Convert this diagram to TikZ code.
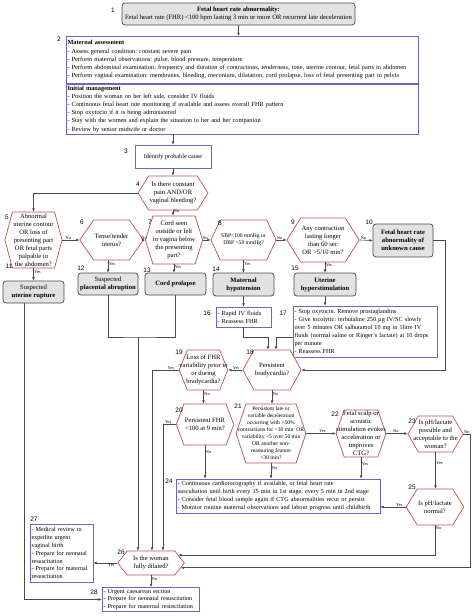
\documentclass[tikz,border=0pt]{standalone}
\usepackage{fontspec}
\setmainfont{Liberation Serif}
\newfontfamily\numfont{Liberation Sans}
\usetikzlibrary{arrows.meta,positioning,shapes.symbols}
\definecolor{hexred}{HTML}{C0504D}
\definecolor{actblue}{HTML}{6868C4}
\definecolor{outgray}{HTML}{E2E2E2}
\definecolor{lnk}{HTML}{4A4A4A}
\frenchspacing

\begin{document}
\begin{tikzpicture}[x=1pt,y=-1pt,>={Latex[length=3.2pt,width=2.8pt]},
 every node/.style={font=\fontsize{6.6}{8}\selectfont},
 hexq/.style={draw=hexred,line width=0.7pt,fill=white,shape=signal,signal to=east and west,align=center,inner sep=1pt},
 outcome/.style={draw=lnk,line width=0.7pt,fill=outgray,rounded corners=3pt,align=center,inner sep=1pt},
 actbox/.style={draw=actblue,line width=0.7pt,fill=white,align=left,inner sep=1.5pt,font=\fontsize{6.2}{7.9}\selectfont},
 num/.style={font=\numfont\fontsize{6.5}{7}\selectfont,inner sep=0pt},
 yn/.style={font=\fontsize{4.3}{5}\selectfont,inner sep=0.6pt},
 link/.style={draw=lnk,line width=0.6pt,->}]
\useasboundingbox (0,0) rectangle (474,616);

\node[outcome,minimum width=233,minimum height=22] (n1) at (238.5,14) {\textbf{Fetal heart rate abnormality:}\\Fetal heart rate (FHR) <100 bpm lasting 3 min or more OR recurrent late deceleration};
\node[actbox,anchor=north,text width=349,minimum height=47,font=\fontsize{6.3}{8.2}\selectfont] (n2a) at (242,36) {\textbf{Maternal assessment}\\- Assess general condition: constant severe pain\\- Perform maternal observations: pulse, blood pressure, temperature\\- Perform abdominal examination: frequency and duration of contractions, tenderness, tone, uterine contour, fetal parts in abdomen\\- Perform vaginal examination: membranes, bleeding, meconium, dilatation, cord prolapse, loss of fetal presenting part in pelvis};
\node[actbox,below=0pt of n2a,text width=349,minimum height=50,font=\fontsize{6.3}{8.2}\selectfont] (n2b) {\textbf{Initial management}\\- Position the woman on her left side, consider IV fluids\\- Continuous fetal heart rate monitoring if available and assess overall FHR pattern\\- Stop oxytocin if it is being administered\\- Stay with the women and explain the situation to her and her companion\\- Review by senior midwife or doctor};
\node[actbox,align=center,minimum width=76,minimum height=23] (n3) at (173,156.5) {Identify probable cause};

\node[hexq,minimum height=34,signal pointer angle=116] (n4) at (173,193) {Is there constant\\pain AND/OR\\vaginal bleeding?};
\node[hexq,minimum height=56,signal pointer angle=150] (n5) at (33.5,240) {Abnormal\\uterine contour\\OR loss of\\presenting part\\OR fetal parts\\palpable in\\the abdomen?};
\node[hexq,minimum height=40,signal pointer angle=110] (n6) at (111.5,240) {Tense/tender\\uterus?};
\node[hexq,minimum height=48,signal pointer angle=145,inner xsep=0pt] (n7) at (174,240) {Cord seen\\outside or felt\\in vagina below\\the presenting\\part?};
\node[hexq,minimum height=40,signal pointer angle=130,font=\fontsize{5.6}{7}\selectfont] (n8) at (243.5,240) {SBP<100 mmHg or\\DBP <50 mmHg?};
\node[hexq,minimum height=44,signal pointer angle=116] (n9) at (323,240) {Any contraction\\lasting longer\\than 60 sec\\OR >5/10 min?};
\node[outcome,minimum width=60,minimum height=33] (n10) at (403,240.5) {\textbf{Fetal heart rate}\\\textbf{abnormality of}\\\textbf{unknown cause}};

\node[outcome,minimum width=61,minimum height=22] (n11) at (33.5,292) {Suspected\\\textbf{uterine rupture}};
\node[outcome,minimum width=60,minimum height=22] (n12) at (108,284) {Suspected\\\textbf{placental abruption}};
\node[outcome,minimum width=61,minimum height=22] (n13) at (175.5,284) {\textbf{Cord prolapse}};
\node[outcome,minimum width=61,minimum height=23] (n14) at (243.5,284.5) {\textbf{Maternal}\\\textbf{hypotension}};
\node[outcome,minimum width=62,minimum height=23] (n15) at (325,284.5) {\textbf{Uterine}\\\textbf{hyperstimulation}};

\node[actbox,text width=52,minimum height=20] (n16) at (243.5,317) {- Rapid IV fluids\\- Reassess FHR};
\node[actbox,text width=141,minimum height=51] (n17) at (365,331.5) {- Stop oxytocin. Remove prostaglandins\\- Give tocolytic: terbutaline 250 µg IV/SC slowly\\over 5 minutes OR salbutamol 10 mg in 1litre IV\\fluids (normal saline or Ringer's lactate) at 10 drops\\per minute\\- Reassess FHR};

\node[hexq,minimum height=40,signal pointer angle=122] (n18) at (272,370) {Persistent\\bradycardia?};
\node[hexq,minimum height=40,signal pointer angle=136,inner xsep=-8pt] (n19) at (203.5,370) {Loss of FHR\\variability prior to\\or during\\bradycardia?};
\node[hexq,minimum height=41,signal pointer angle=139] (n20) at (205,424.5) {Persistent FHR\\<100 at 9 min?};
\node[hexq,minimum height=59,signal pointer angle=143,inner xsep=-8pt,font=\fontsize{5.6}{7}\selectfont] (n21) at (271,433.5) {Persistent late or\\variable deceleration\\occurring with >50\%\\contractions for >30 min~~OR\\variability <5 over 50 min\\OR another non-\\reassuring feature\\>30 min?};
\node[hexq,minimum height=47,signal pointer angle=142,inner xsep=-8pt] (n22) at (361,433.5) {Fetal scalp or\\acoustic\\stimulation evokes\\acceleration or\\improves\\CTG?};
\node[hexq,minimum height=36,signal pointer angle=120,inner xsep=-5pt] (n23) at (435.5,434) {Is pH/lactate\\possible and\\acceptable to the\\woman?};
\node[actbox,text width=201,minimum height=34] (n24) at (278,496) {- Continuous cardiotocography if available, or fetal heart rate\\auscultation until birth every 15 min in 1st stage, every 5 min in 2nd stage\\- Consider fetal blood sample again if CTG abnormalities recur or persist\\- Monitor routine maternal observations and labour progress until childbirth};
\node[hexq,minimum height=36,signal pointer angle=117] (n25) at (435,507) {Is pH/lactate\\normal?};
\node[hexq,minimum height=24,signal pointer angle=103,inner xsep=6pt] (n26) at (151,563) {Is the woman\\fully dilated?};
\node[actbox,text width=60,minimum height=58] (n27) at (61.5,553) {- Medical review to\\expedite urgent\\vaginal birth\\- Prepare for neonatal\\resuscitation\\- Prepare for maternal\\resuscitation};
\node[actbox,text width=94,minimum height=23] (n28) at (150.5,599.5) {- Urgent caesarean section\\- Prepare for neonatal resuscitation\\- Prepare for maternal resuscitation};

\node[num] (t1) at (113,10) {1};
\node[num] (t2) at (59,39) {2};
\node[num] (t3) at (126,151) {3};
\node[num] (t4) at (138,184) {4};
\node[num] (t5) at (7,217) {5};
\node[num] (t6) at (82,222) {6};
\node[num] (t7) at (150,222) {7};
\node[num] (t8) at (220,223) {8};
\node[num] (t9) at (293,222) {9};
\node[num] (t10) at (369,222) {10};
\node[num] (t11) at (9,266) {11};
\node[num] (t12) at (81,268) {12};
\node[num] (t13) at (147,270) {13};
\node[num] (t14) at (216,269) {14};
\node[num] (t15) at (295,268) {15};
\node[num] (t16) at (207,313) {16};
\node[num] (t17) at (283,313) {17};
\node[num] (t18) at (250,352) {18};
\node[num] (t19) at (179,352) {19};
\node[num] (t20) at (179,410) {20};
\node[num] (t21) at (238,406) {21};
\node[num] (t22) at (335,414) {22};
\node[num] (t23) at (412,421) {23};
\node[num] (t24) at (169,481) {24};
\node[num] (t25) at (412,487) {25};
\node[num] (t26) at (121,552) {26};
\node[num] (t27) at (34,519) {27};
\node[num] (t28) at (94,592) {28};

\coordinate (j26) at (138,337);
\draw[link] (n1.south) -- (n1.south |- n2a.north);
\draw[link] (n3.north |- n2b.south) -- (n3.north);
\draw[link] (n3.south) -- (n4.north);
\draw[link] (n4.west) -| (n5.north);
\draw[link] (n4.south) -- node[yn,right,pos=0.2] (l47) {No} (n4.south |- n7.north);
\draw[link] (n5.east) -- node[yn,above,pos=0.35] (l56) {No} (n6.west);
\draw[link] (n6.east) -- node[yn,above,pos=0.3] (l67) {No} (n7.west);
\draw[link] (n7.east) -- node[yn,above,pos=0.3] (l78) {No} (n8.west);
\draw[link] (n8.east) -- node[yn,above,pos=0.3] (l89) {No} (n9.west);
\draw[link] (n9.east) -- node[yn,above,pos=0.3] (l910) {No} (n10.west);
\draw[link] (n5.south) -- node[yn,right,pos=0.3] (l511) {Yes} (n5.south |- n11.north);
\draw[link] (n6.south -| n12.north) -- node[yn,right,pos=0.3] (l612) {Yes} (n12.north);
\draw[link] (n7.south) -- node[yn,right,pos=0.3] (l713) {Yes} (n7.south |- n13.north);
\draw[link] (n8.south) -- node[yn,right,pos=0.3] (l814) {Yes} (n8.south |- n14.north);
\draw[link] (n9.south -| n15.north) -- node[yn,right,pos=0.3] (l915) {Yes} (n15.north);
\draw[link] (n14.south) -- (n14.south |- n16.north);
\draw[link] (n15.south) -- (n15.south |- n17.north);
\draw[link] (n10.east) -- ++(12,0) |- (n18.east);
\draw[link] (n16.south) -- ++(0,10) -| ([xshift=-4pt]n18.north);
\draw[link] (n17.west |- j26) -| ([xshift=4pt]n18.north);
\draw[link,-] (n12.south) |- (j26) -| (n13.south);
\draw[link] (j26) -- (j26 |- n26.north);
\draw[link] ([xshift=-9.5pt]n11.south) |- (n28.west);
\draw[link] (n18.west) -- node[yn,above,pos=0.45] (l1819) {Yes} (n19.east);
\draw[link] (n19.west) -| node[yn,above,pos=0.15] (l1926) {Yes} ([xshift=1pt]n26.north);
\draw[link] (n19.south) -- node[yn,right,pos=0.3] (l1920) {No} (n19.south |- n20.north);
\draw[link] (n20.west) -| node[yn,above,pos=0.3] (l2026) {Yes} ([xshift=12pt]n26.north);
\draw[link] (n20.south) -- node[yn,right,pos=0.2] (l2024) {No} (n20.south |- n24.north);
\draw[link] (n18.south) -- node[yn,right,pos=0.3] (l1821) {No} (n18.south |- n21.north);
\draw[link] (n21.east) -- node[yn,above,pos=0.55] (l2122) {Yes} (n22.west);
\draw[link] (n21.south) -- node[yn,right,pos=0.3] (l2124) {No} (n21.south |- n24.north);
\draw[link] (n22.east) -- node[yn,above,pos=0.45] (l2223) {No} (n22.east -| n23.west);
\draw[link] (n22.south) -- node[yn,right,pos=0.3] (l2224) {Yes} (n22.south |- n24.north);
\draw[link] (n23.south) -- node[yn,right,pos=0.3] (l2325) {Yes} (n23.south |- n25.north);
\draw[link] (n23.east) -- node[yn,above] (l2326) {No} ++(7,0) |- (n26.-9);
\draw[link] (n25.west) -- node[yn,above,pos=0.25] (l2524) {Yes} (n25.west -| n24.east);
\draw[link] (n25.south) |- node[yn,right,pos=0.05] (l2526) {No} (n26.16);
\draw[link] (n26.west) -- node[yn,below,pos=0.25] (l2627) {Yes} (n26.west -| n27.east);
\draw[link] (n26.south) -- node[yn,right,pos=0.3] (l2628) {No} (n26.south |- n28.north);
\end{tikzpicture}
\end{document}
